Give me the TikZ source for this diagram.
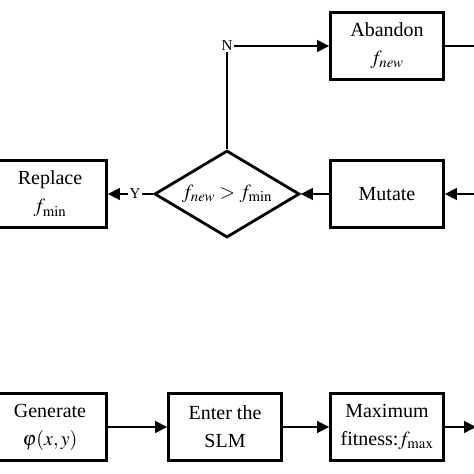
\documentclass[tikz,border=0pt]{standalone}
\usepackage{mathptmx}
\usepackage{fontspec}
\setmainfont{Liberation Serif}
\usetikzlibrary{shapes.geometric,arrows.meta}

\begin{document}
\begin{tikzpicture}[x=1pt, y=-1pt, font=\fontsize{20}{28}\selectfont,
  box/.style = {draw, line width=2.8pt, minimum width=113pt, minimum height=67pt, align=center, inner sep=2pt},
  test/.style = {draw, diamond, aspect=1.67, line width=2.8pt, minimum width=145pt, minimum height=87pt, inner sep=0pt},
  arr/.style = {line width=1.4pt, -{Triangle[length=12pt,width=12pt]}},
  lbl/.style = {inner sep=1pt, font=\fontsize{15}{18}\selectfont}]
\clip (0,0) rectangle (474,474);
% top row
\node[box] (abandon) at (387,46) {Abandon\\ $f_{new}$};
\node[lbl] (N) at (227,46) {N};
\coordinate (outA) at (480,46);
% middle row
\node[box] (replace) at (50,194) {Replace\\ $f_{\min}$};
\node[test] (cmp) at (227,194) {$f_{new} > f_{\min}$};
\node[box] (mutate) at (387,194) {Mutate};
\node[lbl] (Y) at (135,194) {Y};
\coordinate (inM) at (480,194);
% bottom row
\node[box] (gen) at (50,427) {Generate\\ $\varphi(x, y)$};
\node[box] (slm) at (225,427) {Enter the\\ SLM};
\node[box] (fmax) at (387,427) {Maximum\\ fitness:$f_{\max}$};
\coordinate (outF) at (476,427);
% connectors
\draw[line width=1.4pt] (cmp.north) -- (N.south);
\draw[arr] (N.east) -- (abandon.west);
\draw[line width=1.4pt] (abandon.east) -- (outA);
\draw[arr] (inM) -- (mutate.east);
\draw[arr] (mutate.west) -- (cmp.east);
\draw[line width=1.4pt] (cmp.west) -- (Y.east);
\draw[arr] (Y.west) -- (replace.east);
\draw[arr] (gen.east) -- (slm.west);
\draw[arr] (slm.east) -- (fmax.west);
\draw[arr] (fmax.east) -- (outF);
\end{tikzpicture}
\end{document}
